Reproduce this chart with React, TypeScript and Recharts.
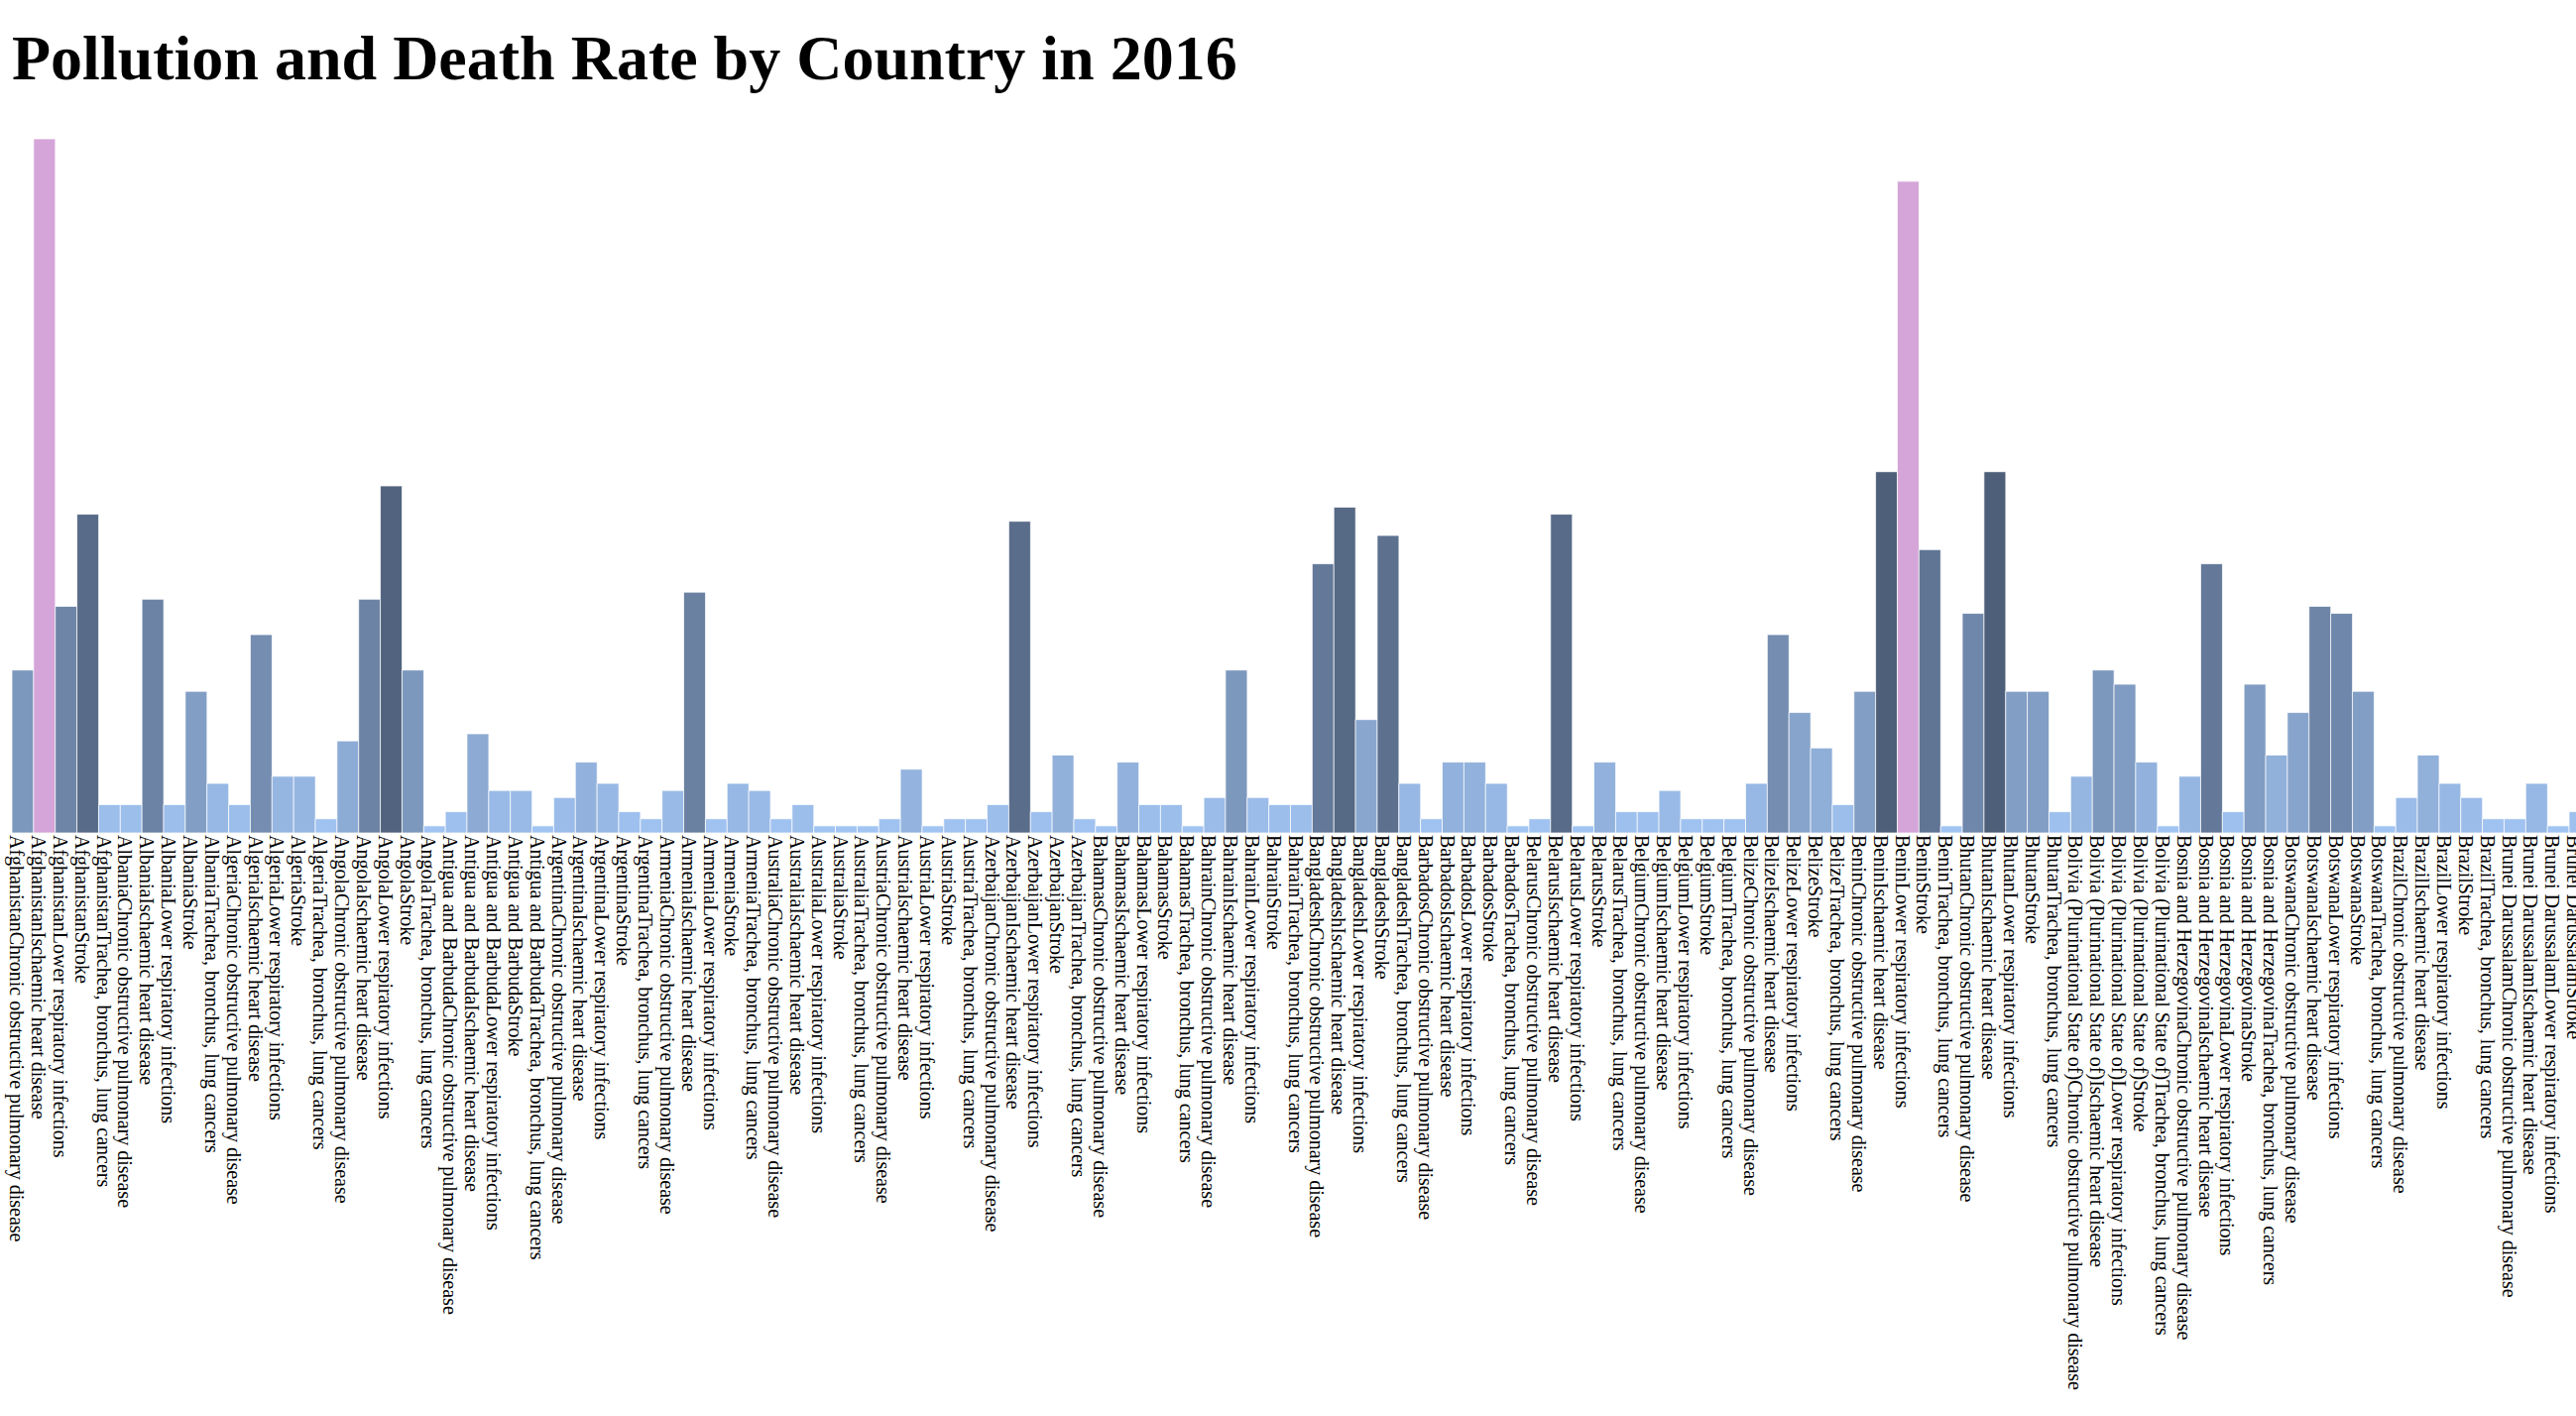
import React from "react";
import { BarChart, Bar, XAxis, YAxis, Cell } from "recharts";

const countries = [
  "Afghanistan", "Albania", "Algeria", "Angola", "Antigua and Barbuda", "Argentina",
  "Armenia", "Australia", "Austria", "Azerbaijan", "Bahamas", "Bahrain", "Bangladesh",
  "Barbados", "Belarus", "Belgium", "Belize", "Benin", "Bhutan",
  "Bolivia (Plurinational State of)", "Bosnia and Herzegovina", "Botswana", "Brazil",
  "Brunei Darussalam",
];

const causes = [
  "Chronic obstructive pulmonary disease",
  "Ischaemic heart disease",
  "Lower respiratory infections",
  "Stroke",
  "Trachea, bronchus, lung cancers",
];

// one value per country, in the order of `countries`
const copd = [23, 4, 4, 13, 3, 5, 6, 2, 2, 4, 1, 5, 38, 2, 2, 3, 7, 20, 31, 8, 8, 17, 5, 2];
const ischaemic = [98, 33, 28, 33, 14, 10, 34, 4, 9, 44, 10, 23, 46, 10, 45, 6, 28, 51, 51, 23, 38, 32, 11, 7];
const lowerResp = [32, 4, 8, 49, 6, 7, 2, 1, 1, 3, 4, 5, 16, 10, 1, 2, 17, 92, 20, 21, 3, 31, 7, 1];
const stroke = [45, 20, 8, 23, 6, 3, 7, 1, 2, 11, 4, 4, 42, 7, 10, 2, 12, 40, 20, 10, 21, 20, 5, 3];
const lungCancer = [4, 7, 2, 1, 1, 2, 6, 1, 2, 2, 1, 4, 7, 1, 3, 2, 4, 1, 3, 1, 11, 1, 2, null];

const seriesByCause = [copd, ischaemic, lowerResp, stroke, lungCancer];

type Row = { label: string; value: number };
const data: Row[] = [];
countries.forEach((c, ci) => {
  causes.forEach((cause, k) => {
    const v = seriesByCause[k][ci];
    if (v !== null && v !== undefined) data.push({ label: c + cause, value: v });
  });
});

const LIGHT = [163, 198, 245];
const DARK = [78, 95, 121];
const PINK = "#d5a5d9";
function colorFor(v: number): string {
  if (v >= 60) return PINK;
  const t = Math.min(1, Math.max(0, v / 51));
  const c = LIGHT.map((l, i) => Math.round(l + (DARK[i] - l) * t));
  return `rgb(${c[0]},${c[1]},${c[2]})`;
}

const BAND = 21.856;
const LEFT = 12;
const TOP = 140;
const PLOT_H = 700;
const CHART_H = 1428;
const CHART_W = Math.ceil(LEFT + data.length * BAND + 27);
const AXIS_H = CHART_H - TOP - PLOT_H;

const Tick = (props: any) => {
  const { x, payload } = props;
  return (
    <text
      transform={`translate(${x},${TOP + PLOT_H + 2}) rotate(90)`}
      x={0}
      y={0}
      dy={12.8}
      textAnchor="start"
      fontSize={20}
      fontFamily="'Liberation Serif', 'Times New Roman', serif"
      fill="#000"
    >
      {payload.value}
    </text>
  );
};

export default function App() {
  return (
    <div style={{ position: "absolute", left: 0, top: 0, width: 2598, height: 1428, overflow: "hidden", background: "#fff" }}>
      <svg width={2598} height={110} style={{ position: "absolute", left: 0, top: 0 }}>
        <text x={12} y={80} fontSize={64} fontWeight="bold" fontFamily="'Liberation Serif', 'Times New Roman', serif" fill="#000">
          Pollution and Death Rate by Country in 2016
        </text>
      </svg>
      <div style={{ position: "absolute", left: 0, top: 0 }}>
        <BarChart
          width={CHART_W}
          height={CHART_H}
          data={data}
          margin={{ top: TOP, right: CHART_W - LEFT - data.length * BAND, bottom: 0, left: LEFT }}
          barCategoryGap={0}
          barGap={0}
        >
          <XAxis
            dataKey="label"
            interval={0}
            tick={<Tick />}
            tickLine={false}
            axisLine={false}
            height={AXIS_H}
          />
          <YAxis hide domain={[0, 98]} allowDataOverflow={true} />
          <Bar dataKey="value" isAnimationActive={false} stroke="#ffffff" strokeOpacity={0.75} strokeWidth={1}>
            {data.map((d, i) => (
              <Cell key={i} fill={colorFor(d.value)} />
            ))}
          </Bar>
        </BarChart>
      </div>
    </div>
  );
}
